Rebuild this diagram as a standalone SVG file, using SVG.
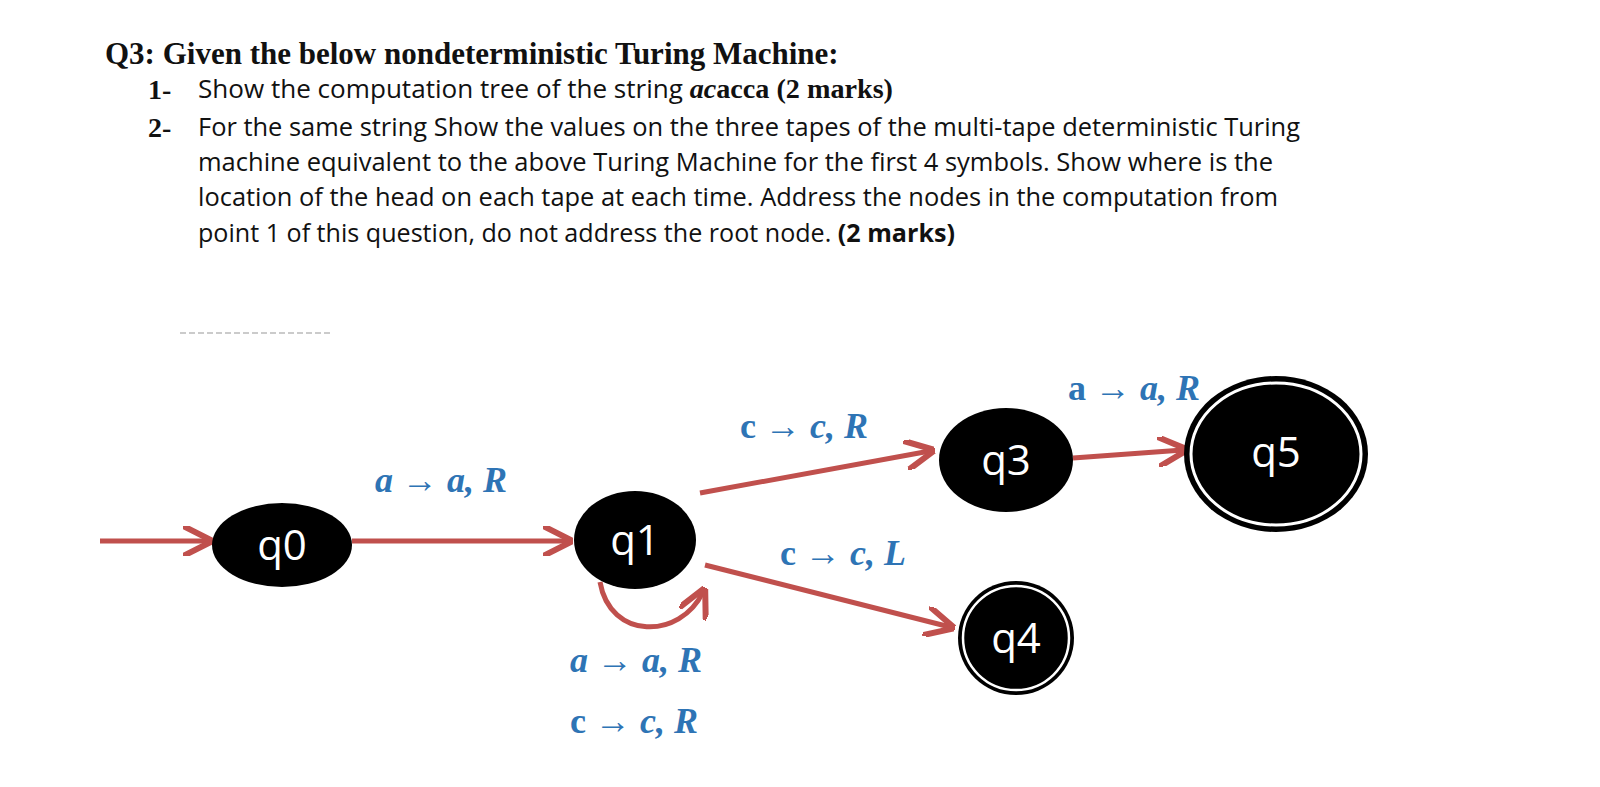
<svg xmlns="http://www.w3.org/2000/svg" width="1600" height="787" viewBox="0 0 1600 787">
<style>
.t{font-family:"Open Sans","Liberation Sans",sans-serif;font-size:25px;fill:#111}
.n{font-family:"Liberation Serif",serif;font-weight:bold;font-size:28px;fill:#111}
.lbl{font-family:"Liberation Serif",serif;font-style:italic;font-weight:bold;font-size:36px;fill:#2e74b5}
.st{font-family:"Open Sans","Liberation Sans",sans-serif;font-size:42px;fill:#fff;text-anchor:middle}
.e{stroke:#c0504d;stroke-width:5;fill:none;marker-end:url(#ah)}
</style>
<defs><marker id="ah" markerWidth="6" markerHeight="6" refX="5" refY="3" orient="auto" markerUnits="strokeWidth"><path d="M0,0 L6,3 L0,6" fill="none" stroke="#c0504d" stroke-width="1.2"/></marker></defs>
<rect width="1600" height="787" fill="#fff"/>
<text x="105" y="64" font-family="Liberation Serif,serif" font-weight="bold" font-size="31" fill="#111">Q3: Given the below nondeterministic Turing Machine:</text>
<text x="148" y="99" class="n">1-</text>
<text x="198" y="98" class="t" textLength="695" lengthAdjust="spacingAndGlyphs">Show the computation tree of the string <tspan font-family="Liberation Serif" font-style="italic" font-weight="bold" font-size="27">ac</tspan><tspan font-family="Liberation Serif" font-weight="bold" font-size="27">acca (2 marks)</tspan></text>
<text x="148" y="137" class="n">2-</text>
<text x="198" y="136" class="t" textLength="1102" lengthAdjust="spacingAndGlyphs">For the same string Show the values on the three tapes of the multi-tape deterministic Turing</text>
<text x="198" y="171" class="t" textLength="1075" lengthAdjust="spacingAndGlyphs">machine equivalent to the above Turing Machine for the first 4 symbols. Show where is the</text>
<text x="198" y="206" class="t" textLength="1080" lengthAdjust="spacingAndGlyphs">location of the head on each tape at each time. Address the nodes in the computation from</text>
<text x="198" y="242" class="t" textLength="757" lengthAdjust="spacingAndGlyphs">point 1 of this question, do not address the root node. <tspan font-weight="bold">(2 marks)</tspan></text>
<line x1="180" y1="333" x2="330" y2="333" stroke="#bbb" stroke-width="1.5" stroke-dasharray="6,3"/>
<g id="connectors">
<line class="e" x1="100" y1="541" x2="208" y2="541"/>
<line class="e" x1="352" y1="541" x2="568" y2="541"/>
<line class="e" x1="700" y1="493" x2="930" y2="451"/>
<line class="e" x1="705" y1="565" x2="950" y2="627"/>
<line class="e" x1="1073" y1="458" x2="1183" y2="450"/>
<path class="e" d="M600,582 C610,640 680,640 703,592"/>
</g>
<g id="labels">
<text class="lbl" x="375" y="492">a → a, R</text>
<text class="lbl" x="740" y="438"><tspan font-style="normal">c</tspan> → c, R</text>
<text class="lbl" x="780" y="565"><tspan font-style="normal">c</tspan> → c, L</text>
<text class="lbl" x="1068" y="400"><tspan font-style="normal">a</tspan> → a, R</text>
<text class="lbl" x="570" y="672">a → a, R</text>
<text class="lbl" x="570" y="733"><tspan font-style="normal">c</tspan> → c, R</text>
</g>
<g id="q0"><ellipse cx="282" cy="545" rx="70" ry="42" fill="#000"/><text class="st" x="282" y="560">q0</text></g>
<g id="q1"><ellipse cx="635" cy="540" rx="61" ry="49" fill="#000"/><text class="st" x="635" y="555">q1</text></g>
<g id="q3"><ellipse cx="1006" cy="460" rx="67" ry="52" fill="#000"/><text class="st" x="1006" y="475">q3</text></g>
<g id="q4"><ellipse cx="1016" cy="638" rx="58" ry="57" fill="#000"/><ellipse cx="1016" cy="638" rx="53" ry="52" fill="none" stroke="#fff" stroke-width="2.5"/><text class="st" x="1016" y="653">q4</text></g>
<g id="q5"><ellipse cx="1276" cy="454" rx="92" ry="78" fill="#000"/><ellipse cx="1276" cy="454" rx="85" ry="71" fill="none" stroke="#fff" stroke-width="3"/><text class="st" x="1276" y="467" font-size="32">q5</text></g>
</svg>
